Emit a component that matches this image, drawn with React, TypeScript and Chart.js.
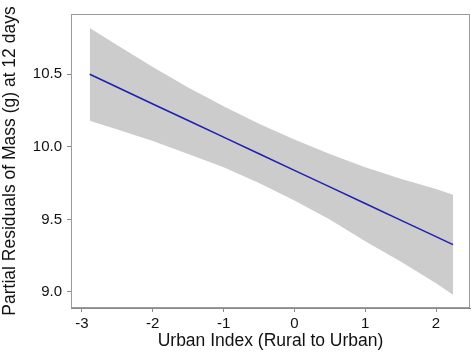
import React, { useEffect, useRef } from "react";
import { Chart, registerables } from "chart.js";

Chart.register(...registerables);

// Urban index positions along the fitted line
const urbanIndex = [-2.89, -2.5, -2, -1.5, -1, -0.5, 0, 0.5, 1, 1.5, 2, 2.24];
// Fitted partial residuals of mass (g)
const fitted = [10.5, 10.411, 10.296, 10.182, 10.067, 9.953, 9.838, 9.724, 9.609, 9.495, 9.381, 9.326];
// Confidence band
const upperCI = [10.82, 10.7, 10.55, 10.41, 10.28, 10.16, 10.05, 9.95, 9.86, 9.78, 9.71, 9.67];
const lowerCI = [10.18, 10.12, 10.04, 9.95, 9.86, 9.75, 9.63, 9.5, 9.35, 9.21, 9.06, 8.98];

const xTicks = [-3, -2, -1, 0, 1, 2];
const yTicks = [9.0, 9.5, 10.0, 10.5];

const xTitle = "Urban Index (Rural to Urban)";
const yTitle = "Partial Residuals of Mass (g) at 12 days";

const FONT = "'Liberation Sans', Arial, sans-serif";

const framePlugin = {
  id: "frame",
  afterDatasetsDraw(chart: any) {
    const { ctx, chartArea } = chart;
    ctx.save();
    ctx.strokeStyle = "#9a9a9a";
    ctx.lineWidth = 1;
    ctx.strokeRect(
      Math.round(chartArea.left) + 0.5,
      Math.round(chartArea.top) + 0.5,
      Math.round(chartArea.right - chartArea.left) - 1,
      Math.round(chartArea.bottom - chartArea.top) - 1
    );
    ctx.restore();
  },
};

export default function App() {
  const ref = useRef<HTMLCanvasElement | null>(null);

  useEffect(() => {
    document.body.style.margin = "0";
    const canvas = ref.current;
    if (!canvas) return;
    const pts = (ys: number[]) => urbanIndex.map((x, i) => ({ x, y: ys[i] }));
    const chart = new Chart(canvas, {
      type: "line",
      data: {
        datasets: [
          {
            label: "fit",
            data: pts(fitted),
            borderColor: "#2020b0",
            borderWidth: 1.6,
            pointRadius: 0,
            fill: false,
            order: 0,
          },
          {
            label: "upper",
            data: pts(upperCI),
            borderWidth: 0,
            borderColor: "rgba(0,0,0,0)",
            pointRadius: 0,
            fill: false,
            order: 2,
          },
          {
            label: "lower",
            data: pts(lowerCI),
            borderWidth: 0,
            borderColor: "rgba(0,0,0,0)",
            backgroundColor: "#cccccc",
            pointRadius: 0,
            fill: "-1",
            order: 1,
          },
        ],
      },
      options: {
        responsive: false,
        animation: false,
        layout: { padding: { top: 8, right: 4, left: 0, bottom: 0 } },
        plugins: {
          legend: { display: false },
          tooltip: { enabled: false },
        },
        scales: {
          x: {
            type: "linear",
            min: -3.155,
            max: 2.48,
            afterFit(scale: any) {
              scale.height = 51;
            },
            afterBuildTicks(scale: any) {
              scale.ticks = xTicks.map((v) => ({ value: v }));
            },
            grid: {
              drawOnChartArea: false,
              drawTicks: true,
              tickLength: 4,
              color: "#8a8a8a",
            },
            border: { display: true, color: "#8a8a8a", width: 1 },
            ticks: {
              padding: 3,
              color: "#111",
              font: { family: FONT, size: 15 },
              maxRotation: 0,
              callback: (v: any) => String(v),
            },
            title: {
              display: true,
              text: xTitle,
              color: "#111",
              font: { family: FONT, size: 17.5 },
              padding: { top: 0, bottom: 7 },
            },
          },
          y: {
            type: "linear",
            min: 8.889,
            max: 10.916,
            afterFit(scale: any) {
              scale.width = 71;
            },
            afterBuildTicks(scale: any) {
              scale.ticks = yTicks.map((v) => ({ value: v }));
            },
            grid: {
              drawOnChartArea: false,
              drawTicks: true,
              tickLength: 4,
              color: "#8a8a8a",
            },
            border: { display: true, color: "#8a8a8a", width: 1 },
            ticks: {
              padding: 5,
              color: "#111",
              font: { family: FONT, size: 15 },
              callback: (v: any) => Number(v).toFixed(1),
            },
            title: {
              display: true,
              text: yTitle,
              color: "#111",
              font: { family: FONT, size: 17.5 },
              padding: { top: 0, bottom: 0 },
            },
          },
        },
      },
      plugins: [framePlugin],
    });
    return () => chart.destroy();
  }, []);

  return (
    <div style={{ position: "fixed", left: 0, top: 0, width: 474, height: 359 }}>
      <canvas ref={ref} width={474} height={359} style={{ display: "block" }} />
    </div>
  );
}
